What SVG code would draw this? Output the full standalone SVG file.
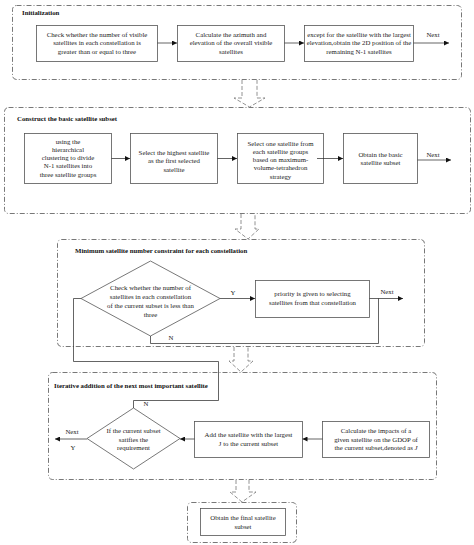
<svg xmlns="http://www.w3.org/2000/svg" width="474" height="545" viewBox="0 0 474 545">
<defs>
<marker id="ah" viewBox="0 0 10 10" refX="10" refY="5" markerWidth="5" markerHeight="5" orient="auto" markerUnits="userSpaceOnUse"><path d="M0,0 L10,5 L0,10 z" fill="#111"/></marker>
<style>
text{font-family:"Liberation Serif","Times New Roman",serif;font-size:6.8px;fill:#222;text-anchor:middle}
.t{font-weight:bold;text-anchor:start;font-size:6.8px;fill:#111}
.sec{fill:none;stroke:#555;stroke-width:0.8;stroke-dasharray:5 2 1 2}
.box{fill:#fff;stroke:#555;stroke-width:0.8}
.ln{fill:none;stroke:#222;stroke-width:0.7}
.big{fill:none;stroke:#777;stroke-width:0.8;stroke-dasharray:4 2}
</style>
</defs>

<g id="sections">
<rect class="sec" x="12.5" y="5.5" width="449" height="74" rx="4"/>
<rect class="sec" x="4.5" y="107.5" width="466" height="106" rx="4"/>
<rect class="sec" x="57.5" y="239.5" width="367" height="107" rx="4"/>
<rect class="sec" x="48.5" y="372.5" width="388" height="107" rx="4"/>
<rect class="sec" x="187.5" y="502.5" width="109" height="40" rx="4"/>
</g>

<g id="titles">
<text class="t" x="22" y="14.5">Initialization</text>
<text class="t" x="17" y="120.5">Construct the basic satellite subset</text>
<text class="t" x="75" y="252.5">Minimum satellite number constraint for each constellation</text>
<text class="t" x="54" y="387.5">Iterative addition of the next most important satellite</text>
</g>

<g id="big-arrows">
<path class="big" d="M242,80 V98 H234 L249.5,107 L265,98 H257 V80"/>
<path class="big" d="M241,214 V229 H235 L248,239 L259,229 H255 V214"/>
<path class="big" d="M234,347 V361 H229 L241,372 L253,361 H248 V347"/>
<path class="big" d="M236,480 V492 H230 L242,502 L256,492 H249 V480"/>
</g>

<g id="n1">
<rect class="box" x="36.5" y="25.5" width="121" height="36"/>
<text x="97" y="36.5">Check whether the number of visible</text>
<text x="97" y="45">satellites in each constellation is</text>
<text x="97" y="53.5">greater than or equal to three</text>
</g>
<g id="n2">
<rect class="box" x="177.5" y="25.5" width="107" height="36"/>
<text x="231" y="36.5">Calculate the azimuth  and</text>
<text x="231" y="45">elevation  of the overall visible</text>
<text x="231" y="53.5">satellites</text>
</g>
<g id="n3">
<rect class="box" x="304.5" y="25.5" width="109" height="36"/>
<text x="359" y="36.5">except for the satellite with the largest</text>
<text x="359" y="45">elevation,obtain the 2D position of the</text>
<text x="359" y="53.5">remaining N-1 satellites</text>
</g>

<g id="n4">
<rect class="box" x="24.5" y="133.5" width="87" height="50"/>
<text x="68" y="143.5">using the</text>
<text x="68" y="151.8">hierarchical</text>
<text x="68" y="160.1">clustering  to divide</text>
<text x="68" y="168.4">N-1 satellites into</text>
<text x="68" y="176.7">three satellite groups</text>
</g>
<g id="n5">
<rect class="box" x="130.5" y="133.5" width="87" height="50"/>
<text x="174" y="155">Select the highest satellite</text>
<text x="174" y="163.3">as the first selected</text>
<text x="174" y="171.6">satellite</text>
</g>
<g id="n6">
<rect class="box" x="237.5" y="133.5" width="86" height="50"/>
<text x="280.5" y="145.5">Select one satellite from</text>
<text x="280.5" y="153.8">each satellite groups</text>
<text x="280.5" y="162.1">based on maximum-</text>
<text x="280.5" y="170.4">volume-tetrahedron</text>
<text x="280.5" y="178.7">strategy</text>
</g>
<g id="n7">
<rect class="box" x="343.5" y="133.5" width="74" height="50"/>
<text x="380.5" y="157">Obtain the basic</text>
<text x="380.5" y="165.3">satellite subset</text>
</g>

<g id="n8">
<path class="box" d="M81,298.5 L150.5,261 L220,298.5 L150.5,336 Z"/>
<text x="150.5" y="290">Check whether the number of</text>
<text x="150.5" y="299">satellites in each constellation</text>
<text x="150.5" y="308">of the current subset is less than</text>
<text x="150.5" y="317">three</text>
</g>
<g id="n9">
<rect class="box" x="255.5" y="280.5" width="114" height="37"/>
<text x="312.5" y="296">priority is given to selecting</text>
<text x="312.5" y="305">satellites from that constellation</text>
</g>

<g id="n10">
<path class="box" d="M87,438.5 L133.5,408 L180,438.5 L133.5,469 Z"/>
<text x="133.5" y="433">If the current subset</text>
<text x="133.5" y="441.5">satifies the</text>
<text x="133.5" y="450">requirement</text>
</g>
<g id="n11">
<rect class="box" x="194.5" y="421.5" width="108" height="36"/>
<text x="248.5" y="437">Add the satellite with the largest</text>
<text x="248.5" y="445.5">J to the current subset</text>
</g>
<g id="n12">
<rect class="box" x="322.5" y="421.5" width="107" height="36"/>
<text x="376" y="433">Calculate the impacts of a</text>
<text x="376" y="441.5">given satellite on the GDOP of</text>
<text x="376" y="450">the current subset,denoted as <tspan font-style="italic">J</tspan></text>
</g>

<g id="n13">
<rect class="box" x="200.5" y="508.5" width="85" height="27"/>
<text x="243" y="520">Obtain the final satellite</text>
<text x="243" y="529">subset</text>
</g>

<g id="connectors">
<line class="ln" x1="157.5" y1="43" x2="177" y2="43" marker-end="url(#ah)"/>
<line class="ln" x1="284.5" y1="43" x2="304" y2="43" marker-end="url(#ah)"/>
<line class="ln" x1="413.5" y1="43" x2="449" y2="43" marker-end="url(#ah)"/>
<text x="433" y="37">Next</text>

<line class="ln" x1="111.5" y1="158.5" x2="130" y2="158.5" marker-end="url(#ah)"/>
<line class="ln" x1="217.5" y1="158.5" x2="237" y2="158.5" marker-end="url(#ah)"/>
<line class="ln" x1="317" y1="158.5" x2="343" y2="158.5" marker-end="url(#ah)"/>
<line class="ln" x1="417.5" y1="160" x2="451" y2="160" marker-end="url(#ah)"/>
<text x="433" y="157">Next</text>

<line class="ln" x1="220" y1="298.5" x2="255" y2="298.5" marker-end="url(#ah)"/>
<text x="233" y="294.5">Y</text>
<line class="ln" x1="369.5" y1="298.5" x2="403" y2="298.5" marker-end="url(#ah)"/>
<text x="387" y="294">Next</text>
<path class="ln" d="M150.5,336 V343.5 H378.5 V298.5"/>
<text x="171" y="339.5">N</text>
<path class="ln" d="M81,298.5 H73.5 V361.5 H218.5 V400.5 H133.5 V408"/>
<text x="146" y="406">N</text>

<line class="ln" x1="322.5" y1="439" x2="302.5" y2="439" marker-end="url(#ah)"/>
<line class="ln" x1="194.5" y1="439" x2="180" y2="439" marker-end="url(#ah)"/>
<line class="ln" x1="87" y1="439" x2="55" y2="439" marker-end="url(#ah)"/>
<text x="72" y="434">Next</text>
<text x="73" y="450">Y</text>
</g>
</svg>
